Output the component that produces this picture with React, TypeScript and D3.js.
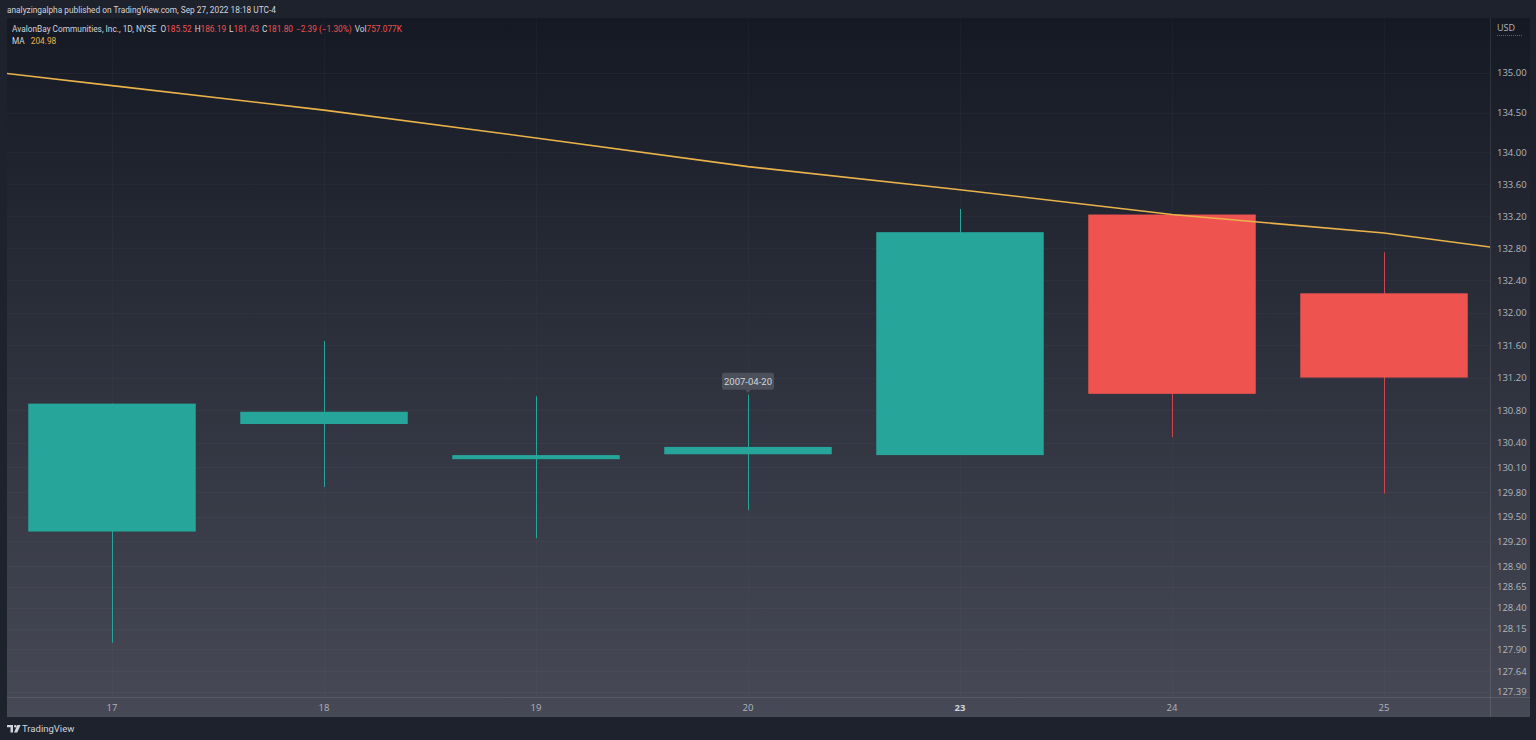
import React from "react";
import * as d3 from "d3";

const days = ["17", "18", "19", "20", "23", "24", "25"];
const opens = [129.32, 130.63, 130.2, 130.26, 130.25, 133.22, 132.24];
const highs = [130.88, 131.65, 130.97, 130.99, 133.29, 133.22, 132.75];
const lows = [127.98, 129.86, 129.24, 129.58, 130.25, 130.47, 129.78];
const closes = [130.88, 130.78, 130.25, 130.35, 133.0, 131.0, 131.2];
// MA values from one day before the first visible day to one day after the last
const maValues = [135.15, 134.84, 134.53, 134.18, 133.82, 133.53, 133.22, 132.99, 132.64];
const yTicks = [135.0, 134.5, 134.0, 133.6, 133.2, 132.8, 132.4, 132.0, 131.6, 131.2, 130.8, 130.4, 130.1, 129.8, 129.5, 129.2, 128.9, 128.65, 128.4, 128.15, 127.9, 127.64, 127.39];

const W = 1536;
const H = 740;
const paneL = 7, paneR = 1530, paneT = 18, paneB = 717;
const plotR = 1490, plotB = 697;
const FONT = "'Open Sans', 'Noto Sans', sans-serif";
const HFONT = "Roboto, 'Noto Sans', sans-serif";

export default function App() {
  const x = d3.scaleLinear().domain([0, days.length - 1]).range([112, 1384]);
  const y = d3.scaleLog().domain([127.33, 135.697]).range([plotB, paneT]);
  const step = x(1) - x(0);
  const bodyW = step * 0.79;
  const up = "#26a69a";
  const down = "#ef5350";
  const maLine = d3
    .line<number>()
    .x((_, i) => x(i - 1))
    .y((d) => y(d));

  return (
    <svg width={W} height={H} style={{ display: "block", position: "absolute", left: 0, top: 0 }} fontFamily={FONT}>
      <defs>
        <linearGradient id="bg" x1="0" y1="0" x2="0" y2="1">
          <stop offset="0" stopColor="#151924" />
          <stop offset="1" stopColor="#474a56" />
        </linearGradient>
        <clipPath id="plotClip">
          <rect x={paneL} y={paneT} width={plotR - paneL} height={plotB - paneT} />
        </clipPath>
      </defs>
      <rect x={0} y={0} width={W} height={H} fill="#1e222d" />
      <rect x={paneL} y={paneT} width={paneR - paneL} height={paneB - paneT} fill="url(#bg)" />

      {/* grid */}
      <g>
        {yTicks.map((t) => (
          <line key={t} x1={paneL} x2={plotR} y1={Math.round(y(t)) + 0.5} y2={Math.round(y(t)) + 0.5} stroke="rgba(255,255,255,0.03)" />
        ))}
        {days.map((d, i) => (
          <line key={d} x1={Math.round(x(i)) + 0.5} x2={Math.round(x(i)) + 0.5} y1={paneT} y2={plotB} stroke="rgba(255,255,255,0.025)" />
        ))}
      </g>

      {/* separators */}
      <line x1={plotR + 0.5} x2={plotR + 0.5} y1={paneT} y2={paneB} stroke="rgba(255,255,255,0.1)" />
      <line x1={paneL} x2={paneR} y1={plotB + 0.5} y2={plotB + 0.5} stroke="rgba(255,255,255,0.1)" />

      <g clipPath="url(#plotClip)">
        {days.map((d, i) => {
          const isUp = closes[i] >= opens[i];
          const col = isUp ? up : down;
          const wick = isUp ? up : "#c9474d";
          const top = y(Math.max(opens[i], closes[i]));
          const bot = y(Math.min(opens[i], closes[i]));
          return (
            <g key={d}>
              <line x1={Math.round(x(i)) + 0.5} x2={Math.round(x(i)) + 0.5} y1={y(highs[i])} y2={y(lows[i])} stroke={wick} strokeWidth={1} />
              <rect x={x(i) - bodyW / 2} y={top} width={bodyW} height={Math.max(1, bot - top)} fill={col} />
            </g>
          );
        })}
        <path d={maLine(maValues) || ""} fill="none" stroke="#eab34a" strokeWidth={1.6} />
      </g>

      {/* date tooltip */}
      <g transform={`translate(${x(3)},${y(highs[3])})`}>
        <rect x={-26} y={-22} width={52} height={17} rx={2} fill="#4c505b" />
        <path d="M-3,-5 L0,-2 L3,-5 Z" fill="#4c505b" />
        <text x={0} y={-10} textAnchor="middle" fontSize={9.5} fontFamily={HFONT} fill="#d1d4dc">2007-04-20</text>
      </g>

      {/* y axis labels */}
      <text x={1497} y={31} fontSize={9} fill="#b2b5be">USD</text>
      <line x1={1497} x2={1522} y1={35.5} y2={35.5} stroke="#5d606b" strokeDasharray="1,1" />
      {yTicks.map((t) => (
        <text key={t} x={1497} y={y(t) + 3.5} fontSize={9.5} fill="#b2b5be">
          {t.toFixed(2)}
        </text>
      ))}

      {/* x axis labels */}
      {days.map((d, i) => (
        <text key={d} x={x(i)} y={711} textAnchor="middle" fontSize={9.5} fill={d === "23" ? "#d1d4dc" : "#b2b5be"} fontWeight={d === "23" ? 700 : 400}>
          {d}
        </text>
      ))}

      {/* header */}
      <g fontFamily={HFONT}>
        <text x={7} y={13} fontSize={8.3} fill="#d1d4dc">
          analyzingalpha published on TradingView.com, Sep 27, 2022 18:18 UTC-4
        </text>
        <text x={12} y={32} fontSize={8.3} fill="#d1d4dc">
          AvalonBay Communities, Inc., 1D, NYSE
          <tspan dx={4}>O</tspan>
          <tspan fill="#ef5350">185.52</tspan>
          <tspan dx={3}>H</tspan>
          <tspan fill="#ef5350">186.19</tspan>
          <tspan dx={3}>L</tspan>
          <tspan fill="#ef5350">181.43</tspan>
          <tspan dx={3}>C</tspan>
          <tspan fill="#ef5350">181.80</tspan>
          <tspan dx={3} fill="#ef5350">−2.39 (−1.30%)</tspan>
          <tspan dx={3}>Vol</tspan>
          <tspan fill="#ef5350">757.077K</tspan>
        </text>
        <text x={12} y={44} fontSize={8.3} fill="#d1d4dc">
          MA<tspan dx={6} fill="#eab34a">204.98</tspan>
        </text>
      </g>

      {/* footer logo */}
      <g transform="translate(7,724)" fill="#d1d4dc">
        <path d="M0,1 H6 V8.5 H3.5 V3.3 H0 Z" />
        <circle cx={8.3} cy={2.2} r={1.3} />
        <path d="M10.3,1 H13.6 L10.3,8.5 H7 Z" />
      </g>
      <text x={22} y={732} fontSize={9.5} fontFamily={HFONT} fill="#d1d4dc">TradingView</text>
    </svg>
  );
}
